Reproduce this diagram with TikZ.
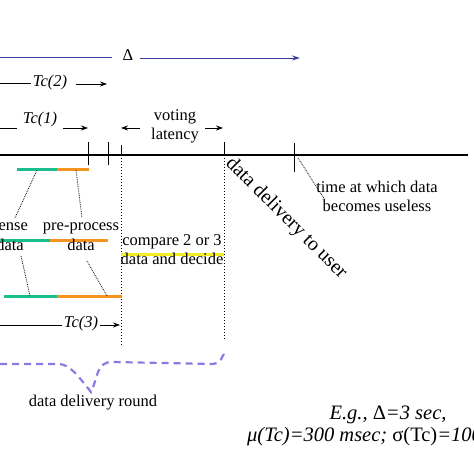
\documentclass[tikz,border=0pt]{standalone}
\usepackage{fontspec}
\setmainfont{Liberation Serif}
\usetikzlibrary{arrows.meta}
\definecolor{dblue}{RGB}{60,60,160}
\definecolor{bgreen}{RGB}{26,190,140}
\definecolor{borange}{RGB}{245,148,30}
\definecolor{byellow}{RGB}{244,238,30}
\definecolor{bpurple}{RGB}{140,122,228}
\begin{document}
\begin{tikzpicture}[x=1pt,y=-1pt,
  every node/.style={inner sep=0pt, font=\fontsize{16.5}{19}\selectfont, text height=11pt, text depth=4pt},
  bigtxt/.style={font=\fontsize{20.5}{24}\selectfont, text height=14pt, text depth=5pt},
  arr/.style={-{Stealth[length=7pt,width=5pt]}, line width=0.8pt},
  blarr/.style={-{Stealth[length=8pt,width=5pt]}, line width=1pt, dblue},
  tickmark/.style={line width=1pt},
  bar/.style={line width=3pt},
  lead/.style={densely dotted, line width=0.8pt},
  vdot/.style={dotted, line width=1pt},
  brace/.style={bpurple, line width=2.2pt, dash pattern=on 7pt off 5pt}]
\useasboundingbox (0,0) rectangle (474,474);
% Delta
\node (delta) at (128,57) {Δ};
\coordinate (d0) at (0,57); \coordinate (d0e) at (112,57);
\coordinate (d1s) at (140,58); \coordinate (d1e) at (300,58);
\draw[dblue, line width=1pt] (d0) -- (d0e);
\draw[blarr] (d1s) -- (d1e);
% Tc(2)
\node (tc2) at (50,83) {\itshape Tc(2)};
\coordinate (a0) at (0,83); \coordinate (a0e) at (31,83);
\coordinate (a1s) at (76,84); \coordinate (a1e) at (107,84);
\draw[line width=0.8pt] (a0) -- (a0e);
\draw[arr] (a1s) -- (a1e);
% Tc(1)
\node (tc1) at (40,120) {\itshape Tc(1)};
\coordinate (b0) at (0,128); \coordinate (b0e) at (17,128);
\coordinate (b1s) at (63,128); \coordinate (b1e) at (88,128);
\draw[line width=0.8pt] (b0) -- (b0e);
\draw[arr] (b1s) -- (b1e);
% voting latency
\node (vot) at (175,117) {voting};
\node (lat) at (175,136) {latency};
\coordinate (v0s) at (140,128); \coordinate (v0e) at (121,128);
\coordinate (v1s) at (205,128); \coordinate (v1e) at (223,128);
\draw[arr] (v0s) -- (v0e);
\draw[arr] (v1s) -- (v1e);
% timeline
\coordinate (t0) at (0,155); \coordinate (t1) at (468,155);
\draw[line width=1.5pt] (t0) -- (t1);
\coordinate (k1a) at (88,142); \coordinate (k1b) at (88,165);
\coordinate (k2a) at (108,142); \coordinate (k2b) at (108,165);
\coordinate (k3a) at (121,145); \coordinate (k3b) at (121,155);
\coordinate (k4a) at (224,142); \coordinate (k4b) at (224,155);
\coordinate (k5a) at (294,143); \coordinate (k5b) at (294,172);
\draw[tickmark] (k1a) -- (k1b);
\draw[tickmark] (k2a) -- (k2b);
\draw[tickmark] (k3a) -- (k3b);
\draw[tickmark] (k4a) -- (k4b);
\draw[tickmark] (k5a) -- (k5b);
\coordinate (k3c) at (121,345); \coordinate (k4c) at (224,340);
\draw[vdot] (k3b) -- (k3c);
\draw[vdot] (k4b) -- (k4c);
% bars
\coordinate (r1a) at (17,169); \coordinate (r1b) at (57,169); \coordinate (r1c) at (89,169);
\coordinate (r2a) at (0,240); \coordinate (r2b) at (50,240); \coordinate (r2c) at (108,240);
\coordinate (r3a) at (4,296); \coordinate (r3b) at (57,296); \coordinate (r3c) at (122,296);
\coordinate (ya) at (121,254); \coordinate (yb) at (224,254);
\draw[bar, bgreen] (r1a) -- (r1b);
\draw[bar, borange] (r1b) -- (r1c);
\draw[bar, bgreen] (r2a) -- (r2b);
\draw[bar, borange] (r2b) -- (r2c);
\draw[bar, bgreen] (r3a) -- (r3b);
\draw[bar, borange] (r3b) -- (r3c);
\draw[bar, byellow] (ya) -- (yb);
% labels
\node (sense) at (10,227) {sense};
\node (sdata) at (10,247) {data};
\node (pp) at (81,227) {pre-process};
\node (pdata) at (81,247) {data};
\node (cmp) at (172,242) {compare 2 or 3};
\node (dec) at (172,261) {data and decide};
\node (tw) at (377,189) {time at which data};
\node (bu) at (377,208) {becomes useless};
\node[rotate=-45, anchor=base west, font=\fontsize{20}{24}\selectfont] (ddu) at (225,164) {data delivery to user};
% leaders
\coordinate (l1a) at (37,170); \coordinate (l1b) at (15,218);
\coordinate (l2a) at (76,170); \coordinate (l2b) at (82,218);
\coordinate (l3a) at (21,256); \coordinate (l3b) at (30,296);
\coordinate (l4a) at (87,261); \coordinate (l4b) at (107,296);
\coordinate (l5a) at (298,158); \coordinate (l5b) at (325,200);
\draw[lead] (l1a) -- (l1b);
\draw[lead] (l2a) -- (l2b);
\draw[lead] (l3a) -- (l3b);
\draw[lead] (l4a) -- (l4b);
\draw[lead] (l5a) -- (l5b);
% Tc(3)
\node (tc3) at (81,324) {\itshape Tc(3)};
\coordinate (c0) at (0,325); \coordinate (c0e) at (62,325);
\coordinate (c1s) at (100,325); \coordinate (c1e) at (120,325);
\draw[line width=0.8pt] (c0) -- (c0e);
\draw[arr] (c1s) -- (c1e);
% brace
\coordinate (br0) at (0,364); \coordinate (br1) at (58,364);
\coordinate (brt) at (91,392); \coordinate (br2) at (112,362);
\coordinate (br3) at (212,364); \coordinate (br4) at (225,349);
\draw[brace] (br0) -- (br1) .. controls (70,364) and (78,376) .. (brt)
  .. controls (98,378) and (96,362) .. (br2) -- (br3) .. controls (220,364) and (224,356) .. (br4);
\node (ddr) at (93,403) {data delivery round};
% example
\node[bigtxt] (eg) at (388,415) {\itshape E.g., \upshape Δ\itshape =3 sec,};
\node[bigtxt, anchor=west] (mu) at (247,437) {\itshape μ(Tc)=300 msec; \upshape σ(Tc)\itshape =100 msec};
\end{tikzpicture}
\end{document}
